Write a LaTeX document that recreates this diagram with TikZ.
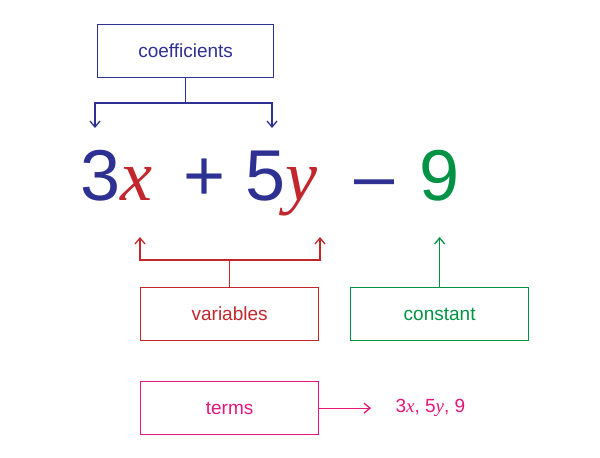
\documentclass[tikz,border=0pt]{standalone}
\usepackage{fontspec}
\setmainfont{Liberation Sans}
\newfontfamily\serifit{Liberation Serif}[ItalicFont={Liberation Serif Italic}]
\newcommand{\vx}[1]{{\serifit\itshape #1}}
\usetikzlibrary{arrows.meta}
\definecolor{cblue}{HTML}{2E3192}
\definecolor{cred}{HTML}{C1272D}
\definecolor{cgreen}{HTML}{009245}
\definecolor{cmag}{HTML}{E6177A}
\begin{document}
\begin{tikzpicture}[x=1pt,y=-1pt,
  box/.style={draw,line width=1.3pt,minimum width=178pt,minimum height=53pt,font=\fontsize{19}{22}\selectfont,anchor=north west},
  conn/.style={line width=1.3pt,-{Straight Barb[length=6pt,width=10pt]}},
  big/.style={font=\fontsize{72}{80}\selectfont,anchor=base}]
\useasboundingbox (0,0) rectangle (600,458);
\node[box,draw=cblue,text=cblue,minimum width=176pt] (coef) at (97,24) {coefficients};
\node[box,draw=cred,text=cred] (var) at (140,287) {variables};
\node[box,draw=cgreen,text=cgreen] (const) at (350,287) {constant};
\node[box,draw=cmag,text=cmag] (terms) at (140,381) {terms};
\node[big,text=cblue,anchor=base west,inner sep=0pt] (t3) at (80,200) {3};
\node[big,text=cred,anchor=base west,inner sep=0pt] (tx) at (t3.base east) {\vx{x}};
\node[big,text=cblue] (plus) at (205,200) {+};
\node[big,text=cblue,anchor=base west,inner sep=0pt] (t5) at (245,200) {5};
\node[big,text=cred,anchor=base west,inner sep=0pt] (ty) at (t5.base east) {\vx{y}};
\node[big,text=cblue] (minus) at (375,200) {–};
\node[big,text=cgreen] (t9) at (440,200) {9};
\node[text=cmag,font=\fontsize{19}{22}\selectfont,anchor=west] (list) at (392,408) {3\vx{x}, 5\vx{y}, 9};
\coordinate (c1) at (coef.south |- 0,103);
\draw[cblue,line width=1.3pt] (coef.south) -- (c1);
\draw[cblue,conn] (c1) -- (95,103) -- (95,128);
\draw[cblue,conn] (c1) -- (272,103) -- (272,128);
\coordinate (v1) at (var.north |- 0,260);
\draw[cred,line width=1.3pt] (var.north) -- (v1);
\draw[cred,conn] (v1) -- (140,260) -- (140,237);
\draw[cred,conn] (v1) -- (320,260) -- (320,237);
\draw[cgreen,conn] (const.north) -- (const.north |- 0,237);
\draw[cmag,conn] (terms.east) -- (terms.east -| 371,0);
\end{tikzpicture}
\end{document}
